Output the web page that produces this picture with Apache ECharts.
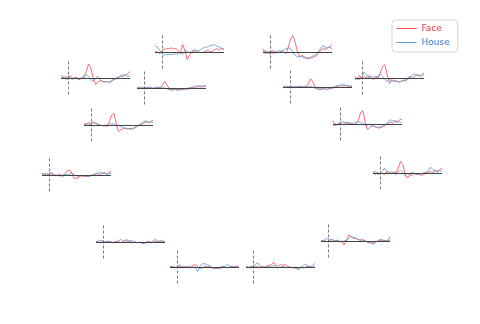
<!DOCTYPE html>
<html><head><meta charset="utf-8">
<script src="https://cdn.jsdelivr.net/npm/echarts@6/dist/echarts.min.js"></script>
<style>html,body{margin:0;padding:0;background:#fff}#c{width:480px;height:324px}</style>
</head><body><div id="c"></div>
<script>
const times = [-0.1,-0.07,-0.04,-0.01,0.02,0.05,0.08,0.11,0.14,0.17,0.2,0.23,0.26,0.29,0.32,0.35,0.38,0.41,0.44,0.47,0.5,0.53,0.56,0.59,0.62,0.65,0.68,0.71,0.74,0.77,0.8];
const conditions = ['Face', 'House'];

const face01 = [0.5,0,-1,1,1.5,2,2,2.5,2,2,1,-1,4.5,1,-4.5,-2,0,0.5,1,0,-0.5,0,0.5,1,0,0.5,1.5,2,1,2.5,1.5];
const house01 = [4,3,1,-1,-2,-1.5,-1.5,-1.5,-1.5,-1,-1.5,0,-1.5,1,0.5,-0.5,0.5,1.5,0.5,1,1.5,2.5,3,3,4,4,4.5,3.5,3,2,1.5];
const face02 = [2,-1,0.5,-1.5,1,-1,0,-0.5,1,0,-1,3,8,10,6,0,-3,-2,-3,-3.5,-4,-3.5,-3,-2.5,-1,1,2,1.5,2.5,3,4.5];
const house02 = [0,1,-1,0.5,-1,0.5,0,1,0,1,2,2.5,2,0,-2,-3,-2.5,-3,-3.5,-4,-3.5,-3,-2,-1.5,0,2,4,3,2.5,3,2];
const face03 = [2,0,1,-1,1.5,0,-0.5,0.5,-1,0,1,4,8.5,6,0,-3.8,-2.5,-1.5,-2,-2.5,-2,-3,-2,-1,-0.5,0.5,1,1,2,2.5,4];
const house03 = [0,1,-1,1,0,-1,0.5,-0.5,-1,0.5,0,2,1,-1,-2,0,1,-1,-2,-2.5,-2,-2.5,-1.5,-0.5,0,0.5,1.5,2,1.5,1,1];
const face04 = [0,0.5,0,0.5,0,0.5,0,-0.5,0.5,0,0.5,1.5,4,2,-0.5,-1.5,-1,-1,-1.5,-1,-1,-0.5,-1,0,0.5,0,0.5,1,0.5,1,2];
const house04 = [0.5,0,0.5,-0.5,0.5,0,0.5,0,0,0.5,0,0.5,0,-0.5,-1,-1,-0.5,-1,-1,-0.5,-1,-0.5,0,0,0.5,1,1.5,1,1.5,1,1];
const face05 = [0.5,-0.5,0.5,0,0.5,-0.5,0,0.5,0,0,0.5,2,5,3,0,-1.5,-1,-1.5,-1,-1.5,-1,-1,-0.5,0,0.5,1,0.5,1,0.5,0,0.5];
const house05 = [0,0.5,0,0.5,-0.5,0.5,0,0,0.5,0,0,0.5,0.5,0,-1,-1,-1.5,-1,-1,-1.5,-1,-0.5,0,0.5,1,1,1.5,1,1,0.5,1];
const face06 = [1,-1,1.5,-0.5,1,0,1.5,0,-1,0.5,0,3,7,8,2,-3.4,-1,-2,-1.5,-2.5,-2,-1.5,-2,0,1,-0.5,1,2,1,2,3];
const house06 = [-1,0,-1,1,3.5,2,0,1,0.5,1,1,2.5,1,-1,-2,-1,-1.5,-2,-2,-2.5,-2,-1.5,-1,-0.5,0,2,2.5,1.5,2,1,2];
const face07 = [1,0,1.5,1,2,1,0.5,0,-0.5,0,-1,2,6,7,1,-4,-3,-2,-2,-2.5,-2,-2.5,-1.5,-0.5,0,0.5,1,2,1.5,2,3];
const house07 = [0,1,0.5,0,1.5,1,0.5,0,-0.5,-0.5,0,1,0.5,1,-0.5,0,-1,-1.5,-2,-2,-2.5,-2,-2,-1,0,1,2,2.5,1.5,2,1.5];
const face08 = [2,-1,0,1,-0.5,0.5,1,0,0.5,-0.5,0,2,7,8,1,-3.5,-2,-1,-1.5,-2,-2.5,-2,-1.5,-0.5,0.5,1,0.5,2,1.5,2.5,3];
const house08 = [-1,0,-0.5,0.5,1.5,1,0.5,1,0,0.5,1,1.5,1,0.5,-1,-0.5,0,-1,-1.5,-2,-2,-1.5,-1,0,1.5,2.5,2,1.5,1,1.5,0.5];
const face09 = [1,0,1,0.5,1,0,-0.5,0,0.5,-1,0.5,2.5,3,1,-2,-2,-1.5,-0.5,-1,-0.5,-1,-0.5,0,0.5,1,0,1,1.5,0.5,1.5,2];
const house09 = [0.5,1,0,0.5,1.5,0.5,0,-0.5,-0.5,0,0.5,0,0.5,1.5,0,-0.5,-1,0,-0.5,-1,-1,-0.5,0,0.5,1,1.5,1,1,0.5,0.5,1];
const face10 = [1,-1,0.5,-1,0,-1,1,0.5,-0.5,0.5,0,3,7,5,-1,-3,-1,-1.5,0,-1,-0.5,-1.5,-1,0,0.5,1,0,2,1,2,3];
const house10 = [0,1,-1,0,1,3,0.5,-0.5,1,0,-1,1,1.5,0.5,-1.5,0,-1,0.5,-0.5,-1,-1,-0.5,0,0.5,1.5,3.5,2,1,0.5,1.5,1];
const face11 = [0,0.5,1,0.5,0,0.5,0,-0.5,0,0.5,0,-0.5,0.5,1,0,0.5,-0.5,0,-0.5,0,-0.5,-1,0,0.5,-0.5,0,0.5,0,1,0.5,0];
const house11 = [0.5,0,-0.5,0.5,0,0,0.5,0,-0.5,0,1,1.5,0,1.5,1,0.5,1,0,-0.5,0,-1,-0.5,0,-0.5,0,1,1.5,0.5,0,0.5,0];
const face12 = [0,0.5,0,-0.5,0.5,1,0,0.5,-0.5,0,-2.4,0,3.6,3,1.5,1.5,1,0.5,1,0,-0.5,-1,-0.5,-1.5,-0.5,0,0.5,0,0.5,0,2.6];
const house12 = [0.5,0,1,1.5,1,0.5,0,0.5,0,-0.5,0,0.5,1.5,2.5,2.5,2,1,0.5,0,0.5,-0.5,-1,-1.5,-1.8,-0.5,0.5,1,0.5,0,0.5,0];
const face13 = [0,0.5,0,-0.5,0.5,0,0.5,-0.5,0,0.5,1,1.5,0,-1,-0.5,0.5,0,0.5,-0.5,-1,-0.5,-1,0,0.5,0,-0.5,0,0.5,0,0.5,0];
const house13 = [0.5,0,-0.5,0,1.5,0,-0.5,0.5,0,-0.5,0,0,-2.8,0.5,2,2,1.5,1,0,-0.5,-1,-0.5,-1,0,0.5,1.5,0.5,0,0.5,0,0];
const face14 = [0,-0.5,0.5,0,0.5,0,-0.5,0.5,0,0.5,1,1.5,2.8,1,0.5,1.5,1,1.5,0.5,0,-0.5,0,-1,-0.5,0,-0.5,0,0.5,0,1,2.2];
const house14 = [0.5,0,-0.5,0.5,1.5,2.6,0.5,0,-0.5,0.5,0,0.5,1,0,-0.5,0,0.5,0,-0.5,0,-0.5,-0.5,-1,-1.8,0,1,1.6,0.5,0,0,0.5];

const faceData = [face01,face02,face03,face04,face05,face06,face07,face08,face09,face10,face11,face12,face13,face14];
const houseData = [house01,house02,house03,house04,house05,house06,house07,house08,house09,house10,house11,house12,house13,house14];

// layout: [left px, zero-line y px] of each sensor panel
const layout = [[155,52],[263,52],[61,78],[137,88],[283,87],[355,78],[84,125],[333,124],[42,175],[373,173],[96,242],[321,241],[170,267],[246,267]];

const RED = '#ee4a53', BLUE = '#5b9bd5';
const grids = [], xAxes = [], yAxes = [], series = [];
layout.forEach(([l, z], i) => {
  grids.push({left: l, top: z - 16.5, width: 69, height: 33});
  xAxes.push({type: 'value', gridIndex: i, min: -0.1, max: 0.8, show: false});
  yAxes.push({type: 'value', gridIndex: i, min: -10, max: 10, show: false});
  series.push({
    name: conditions[0], type: 'line', xAxisIndex: i, yAxisIndex: i,
    data: times.map((t, k) => [t, faceData[i][k]]),
    symbol: 'none', color: RED, itemStyle: {color: RED}, lineStyle: {width: 0.8, color: RED}, z: 2,
    markLine: {silent: true, symbol: 'none', label: {show: false}, animation: false,
      data: [
        {yAxis: 0, lineStyle: {color: '#444', width: 1, type: 'solid'}},
        {xAxis: 0, lineStyle: {color: '#555', width: 0.8, type: [3, 2]}}
      ]}
  });
  series.push({
    name: conditions[1], type: 'line', xAxisIndex: i, yAxisIndex: i,
    data: times.map((t, k) => [t, houseData[i][k]]),
    symbol: 'none', color: BLUE, itemStyle: {color: BLUE}, lineStyle: {width: 0.8, color: BLUE}, z: 3
  });
});

const chart = echarts.init(document.getElementById('c'));
chart.setOption({
  animation: false,
  backgroundColor: '#fff',
  grid: grids, xAxis: xAxes, yAxis: yAxes, series: series,
  legend: {
    data: [
      {name: 'Face', textStyle: {color: '#e0353d'}},
      {name: 'House', textStyle: {color: '#3a7bbf'}}
    ],
    orient: 'vertical', left: 392, top: 20, itemWidth: 20, itemHeight: 8, itemGap: 5,
    itemStyle: {opacity: 0}, lineStyle: {width: 1},
    padding: [4, 8, 5, 4], backgroundColor: '#fff', borderColor: '#d4d4d4', borderWidth: 1, borderRadius: 3,
    textStyle: {fontSize: 9, fontFamily: 'DejaVu Sans'}
  }
});
</script></body></html>
